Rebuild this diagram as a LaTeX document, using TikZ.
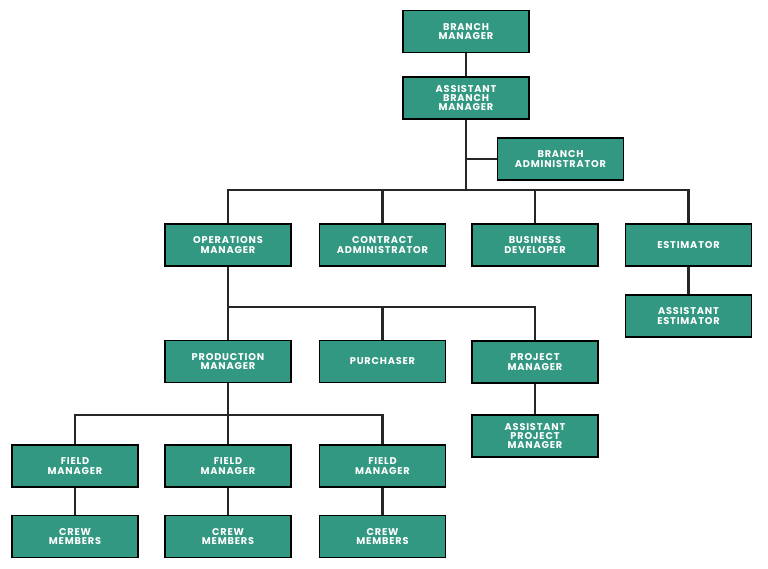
\documentclass[tikz,border=0pt]{standalone}
\usepackage{fontspec}
\setmainfont{Poppins}[LetterSpace=8]
\definecolor{teal}{RGB}{51,152,130}
\begin{document}
\begin{tikzpicture}[x=1pt,y=-1pt,
    role/.style={draw=black,line width=1.6pt,fill=teal,text=white,minimum width=126pt,minimum height=42pt,align=center,inner sep=0pt,font=\bfseries\fontsize{9.8}{9.3}\selectfont},
    link/.style={line width=2.2pt,color=black!85}]
    \useasboundingbox (0,0) rectangle (768,569);
    \node[role] (bm) at (466,31.5) {BRANCH\\MANAGER};
    \node[role] (abm) at (466,98) {ASSISTANT\\BRANCH\\MANAGER};
    \node[role] (badm) at (560.5,159) {BRANCH\\ADMINISTRATOR};
    \node[role] (ops) at (228,245) {OPERATIONS\\MANAGER};
    \node[role] (ca) at (382.5,245) {CONTRACT\\ADMINISTRATOR};
    \node[role] (bd) at (535,245) {BUSINESS\\DEVELOPER};
    \node[role] (est) at (688.5,245) {ESTIMATOR};
    \node[role] (aest) at (688.5,316) {ASSISTANT\\ESTIMATOR};
    \node[role] (pm) at (228,361.5) {PRODUCTION\\MANAGER};
    \node[role] (pur) at (382.5,361.5) {PURCHASER};
    \node[role] (prm) at (535,362) {PROJECT\\MANAGER};
    \node[role] (apm) at (535,436) {ASSISTANT\\PROJECT\\MANAGER};
    \node[role] (fm1) at (75,466) {FIELD\\MANAGER};
    \node[role] (fm2) at (228,466) {FIELD\\MANAGER};
    \node[role] (fm3) at (382.5,466) {FIELD\\MANAGER};
    \node[role] (cm1) at (75,536.5) {CREW\\MEMBERS};
    \node[role] (cm2) at (228,536.5) {CREW\\MEMBERS};
    \node[role] (cm3) at (382.5,536.5) {CREW\\MEMBERS};
    \coordinate (j1) at (466,190);
    \coordinate (j2) at (228,307);
    \coordinate (j3) at (228,415);
    % top of the tree
    \draw[link] (bm) -- (abm);
    \draw[link] (abm) -- (j1);
    \draw[link] (badm.west) -- (badm.west -| abm);
    \draw[link] (ops.north) |- (j1) -| (est.north);
    \draw[link] (ca.north) -- (ca.north |- j1);
    \draw[link] (bd.north) -- (bd.north |- j1);
    \draw[link] (est) -- (aest);
    % operations
    \draw[link] (ops) -- (pm);
    \draw[link] (j2) -| (prm.north);
    \draw[link] (pur.north) -- (pur.north |- j2);
    \draw[link] (prm) -- (apm);
    % production
    \draw[link] (pm) -- (fm2);
    \draw[link] (fm1.north) |- (j3) -| (fm3.north);
    \draw[link] (fm1) -- (cm1);
    \draw[link] (fm2) -- (cm2);
    \draw[link] (fm3) -- (cm3);
\end{tikzpicture}
\end{document}
